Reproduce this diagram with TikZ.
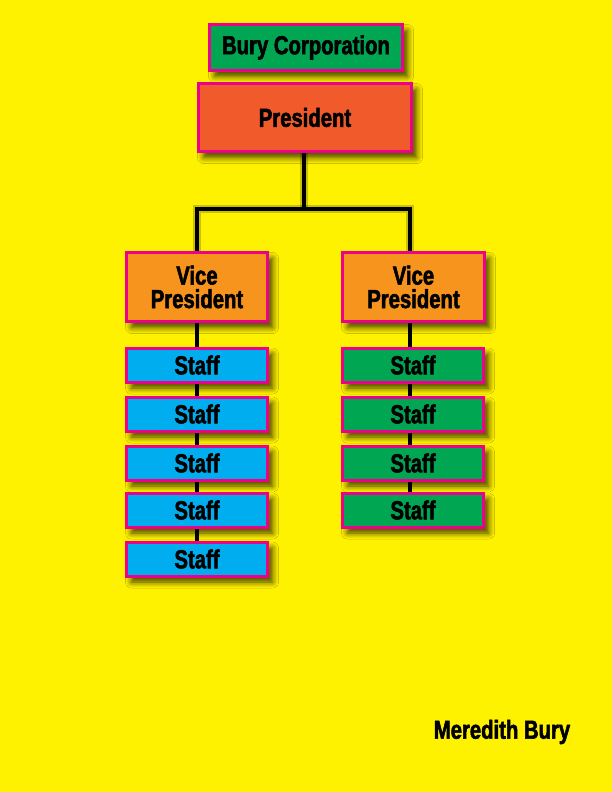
\documentclass[tikz,border=0pt]{standalone}
\usepackage{fontspec}
\setmainfont{Liberation Sans}[FakeStretch=0.78, BoldFeatures={FakeBold=2}]
\usetikzlibrary{shadows.blur}
\definecolor{bg}{HTML}{FFF200}
\definecolor{mag}{HTML}{EC008C}
\definecolor{grn}{HTML}{00A651}
\definecolor{red}{HTML}{F15A2B}
\definecolor{org}{HTML}{F7941D}
\definecolor{blu}{HTML}{00AEEF}
\tikzset{
  box/.style={draw=mag, line width=3pt, inner sep=0pt, align=center,
    font=\fontsize{26}{23.5}\selectfont\bfseries,
    blur shadow={shadow xshift=5pt, shadow yshift=-6pt, shadow blur radius=6pt, shadow blur steps=8, shadow opacity=75}},
  conn/.style={line width=4pt, black},
  connshadow/.style={line width=8pt, black, opacity=0.2},
}
\begin{document}
\begin{tikzpicture}[x=1pt,y=1pt]
\fill[bg] (0,0) rectangle (612,-792);
\useasboundingbox (0,0) rectangle (612,-792);
% connector coordinates
\coordinate (jl) at (197,-209);
\coordinate (jr) at (410,-209);
\coordinate (jc) at (304,-209);
\coordinate (ptop) at (304,-150);
\coordinate (lend) at (197,-559);
\coordinate (rend) at (410,-510);
% line shadows
\begin{scope}[shift={(5,-6)}]
\draw[connshadow] (ptop) -- (jc);
\draw[connshadow] (jl |- 0,-251) -- (jl) -- (jr) -- (jr |- 0,-251);
\end{scope}
% lines
\draw[conn] (ptop) -- (jc);
\draw[conn] (jl |- 0,-253) -- (jl) -- (jr) -- (jr |- 0,-253);
\draw[conn] (jl |- 0,-300) -- (lend);
\draw[conn] (jr |- 0,-300) -- (rend);
% nodes
\node[box, fill=grn, minimum width=193pt, minimum height=46pt] (corp) at (306,-47.5) {Bury Corporation};
\node[box, fill=red, minimum width=213pt, minimum height=68pt] (pres) at (305,-117.5) {President};
\node[box, fill=org, minimum width=141pt, minimum height=69pt] (vpl) at (197,-287) {Vice\\President};
\node[box, fill=org, minimum width=142pt, minimum height=69pt] (vpr) at (413.5,-287) {Vice\\President};
\foreach \i/\y in {1/365,2/414,3/463,4/510,5/559}{
  \node[box, fill=blu, minimum width=141pt, minimum height=34pt] (ls\i) at (197,-\y) {Staff};
}
\foreach \i/\y in {1/365,2/414,3/463,4/510}{
  \node[box, fill=grn, minimum width=141pt, minimum height=34pt] (rs\i) at (413,-\y) {Staff};
}
\node[font=\fontsize{26}{26}\selectfont\bfseries] (author) at (502,-732) {Meredith Bury};
\end{tikzpicture}
\end{document}
